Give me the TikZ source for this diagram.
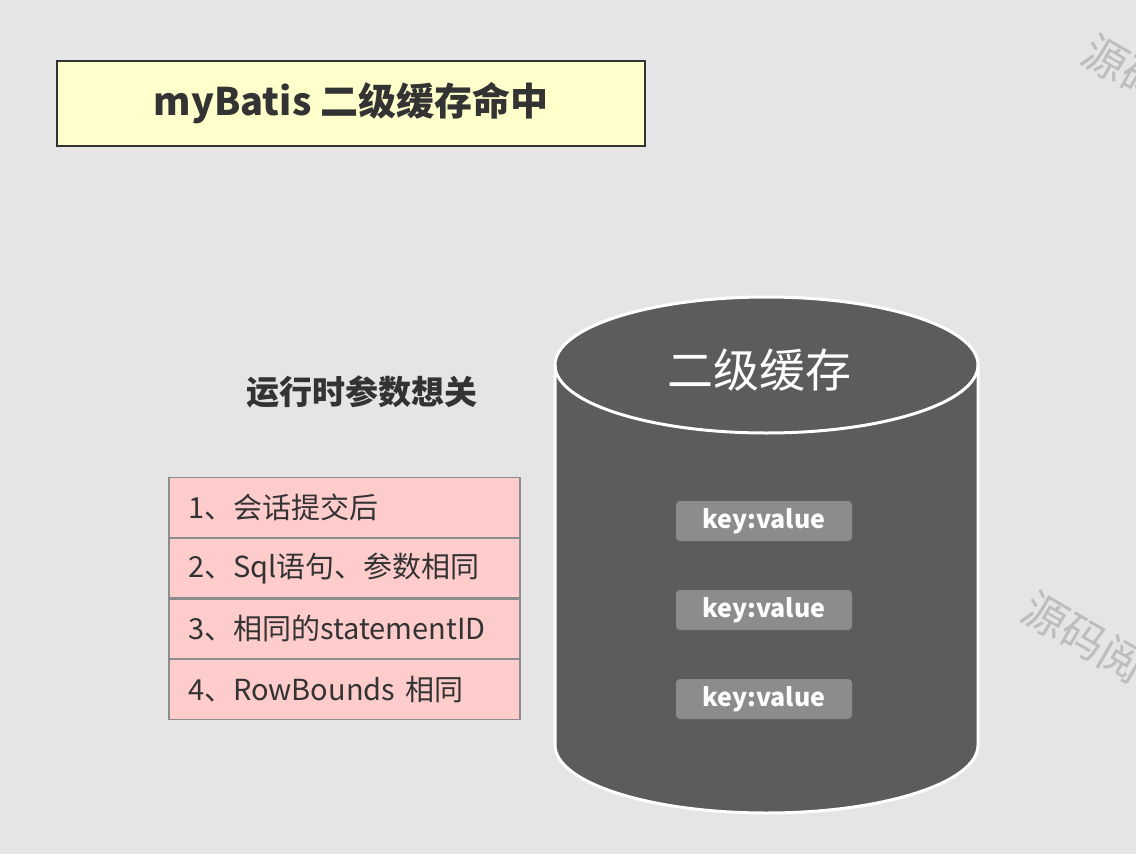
\documentclass[tikz,border=0pt]{standalone}
\usepackage{fontspec}
\setmainfont{Noto Sans CJK SC}
\usetikzlibrary{positioning}

\definecolor{bggray}{HTML}{E5E5E5}
\definecolor{titleyellow}{HTML}{FFFFCC}
\definecolor{rowpink}{HTML}{FFCCCC}
\definecolor{rowborder}{HTML}{8C8C8C}
\definecolor{cylgray}{HTML}{5C5C5C}
\definecolor{kvgray}{HTML}{8C8C8C}
\definecolor{darktext}{HTML}{333333}
\definecolor{markgray}{HTML}{BDBDBD}

\begin{document}
\begin{tikzpicture}[x=1pt, y=-1pt,
    titlebox/.style={draw=darktext, line width=1.5pt, fill=titleyellow, text=darktext,
        minimum width=588pt, minimum height=85pt, font=\bfseries\fontsize{38}{42}\selectfont},
    rowbox/.style={draw=rowborder, line width=1.2pt, fill=rowpink, text=darktext,
        minimum height=59.5pt, text width=313pt, inner xsep=19pt, align=left,
        font=\fontsize{29}{32}\selectfont},
    kvbox/.style={fill=kvgray, rounded corners=4pt, text=white,
        minimum width=176pt, minimum height=40pt, font=\bfseries\fontsize{25}{27}\selectfont},
    watermark/.style={text=markgray, rotate=-30, anchor=west, font=\fontsize{44}{48}\selectfont}]
    % Background
    \clip (0,0) rectangle (1136,854);
    \fill[bggray] (0,0) rectangle (1136,854);
    % Watermarks
    \node[watermark] (mark1) at (1084,45) {源码阅读};
    \node[watermark] (mark2) at (1024,602) {源码阅读};
    % Title
    \node[titlebox] (title) at (351,103.5) {myBatis 二级缓存命中};
    % Conditions
    \node[text=darktext, font=\bfseries\fontsize{33}{36}\selectfont] (condtitle) at (362,392) {运行时参数想关};
    \node[rowbox] (row1) at (344.5,507.5) {1、会话提交后};
    \node[rowbox, below=0pt of row1] (row2) {2、Sql语句、参数相同};
    \node[rowbox, below=0pt of row2] (row3) {3、相同的statementID};
    \node[rowbox, below=0pt of row3] (row4) {4、RowBounds 相同};
    % Cache cylinder
    \fill[cylgray] (555,365) -- (555,745) arc[start angle=180, end angle=0, x radius=211.5, y radius=68]
        -- (978,365) arc[start angle=0, end angle=-180, x radius=211.5, y radius=68] -- cycle;
    \draw[white, line width=3pt] (555,365) -- (555,745) arc[start angle=180, end angle=0, x radius=211.5, y radius=68]
        -- (978,365);
    \draw[white, line width=3pt] (766.5,365) ellipse[x radius=211.5, y radius=68];
    \node[text=white, font=\fontsize{46}{50}\selectfont] (cachetitle) at (759,370) {二级缓存};
    \node[kvbox] (kv1) at (764,521) {key:value};
    \node[kvbox] (kv2) at (764,610) {key:value};
    \node[kvbox] (kv3) at (764,699) {key:value};
\end{tikzpicture}
\end{document}
